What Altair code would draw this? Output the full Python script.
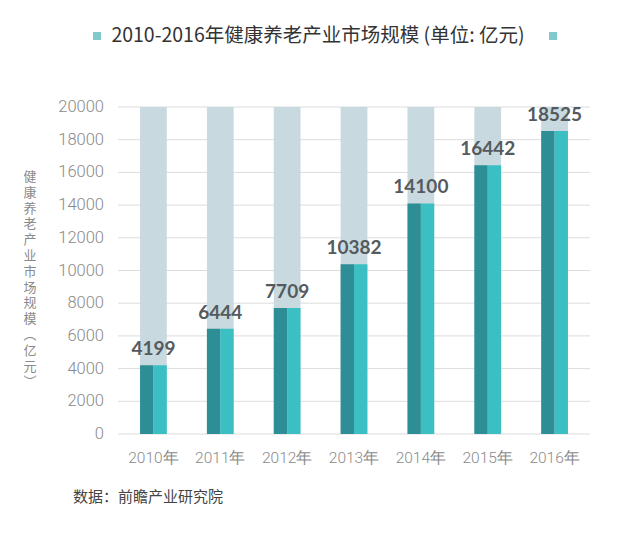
import altair as alt
import pandas as pd

years = ["2010年", "2011年", "2012年", "2013年", "2014年", "2015年", "2016年"]
values = [4199, 6444, 7709, 10382, 14100, 16442, 18525]
bg_values = [20000] * 7
halves = ["左", "右"]
y_ticks = list(range(0, 20001, 2000))
title_text = "2010-2016年健康养老产业市场规模 (单位: 亿元)"
ytitle_chars = list("健康养老产业市场规模") + ["︵", "亿", "元", "︶"]
source_text = "数据：前瞻产业研究院"

df = pd.DataFrame({"year": years, "value": values, "bg": bg_values})
df_half = pd.DataFrame(
    [{"year": y, "value": v, "half": h} for y, v in zip(years, values) for h in halves]
)
df_ticks = pd.DataFrame({"tick": y_ticks})

xscale = alt.Scale(domain=years, paddingInner=0.6, paddingOuter=0.3)
yscale = alt.Scale(domain=[0, 20000])

x_axis = alt.Axis(
    title=None, labelAngle=0, domain=False, ticks=False, grid=False, labelPadding=16,
    labelFontSize=15.5, labelColor="#8a8a8a", labelFont="Roboto", labelFontWeight=300,
)

grid = alt.Chart(df_ticks).mark_rule(color="#dcdcdc", strokeWidth=1).encode(
    y=alt.Y("tick:Q", scale=yscale, axis=None),
    x=alt.value(-2),
    x2=alt.value(470),
)

tick_labels = alt.Chart(df_ticks).mark_text(
    align="right", baseline="middle", fontSize=16.5, color="#8a8a8a", font="Roboto", fontWeight=300
).encode(
    y=alt.Y("tick:Q", scale=yscale, axis=None),
    x=alt.value(-16),
    text=alt.Text("tick:Q", format="d"),
)

bg = alt.Chart(df).mark_bar(color="#c8d9df").encode(
    x=alt.X("year:N", scale=xscale, sort=years, axis=x_axis),
    y=alt.Y("bg:Q", scale=yscale, axis=None),
)

fg = alt.Chart(df_half).mark_bar().encode(
    x=alt.X("year:N", scale=xscale, sort=years, axis=x_axis),
    xOffset=alt.XOffset("half:N", sort=halves, scale=alt.Scale(domain=halves, paddingInner=0, paddingOuter=0)),
    y=alt.Y("value:Q", scale=yscale, axis=None),
    color=alt.Color("half:N", scale=alt.Scale(domain=halves, range=["#2d8e95", "#3cbfc3"]), legend=None),
)

labels = alt.Chart(df).mark_text(
    baseline="bottom", dy=-6, fontSize=19, fontWeight="bold", font="Lato", color="#545a5e"
).encode(
    x=alt.X("year:N", scale=xscale, sort=years, axis=x_axis),
    y=alt.Y("value:Q", scale=yscale, axis=None),
    text=alt.Text("value:Q", format="d"),
)

one = pd.DataFrame({"t": [title_text], "yt": ["\n".join(ytitle_chars)], "s": [source_text]})

title = alt.Chart(one).mark_text(
    fontSize=19.5, color="#333333", font="Noto Sans CJK SC", align="center", baseline="middle"
).encode(x=alt.value(198), y=alt.value(-71), text="t:N")

sq1 = alt.Chart(one).mark_square(size=64, color="#82c9cb", opacity=1).encode(
    x=alt.value(-23), y=alt.value(-71)
)
sq2 = alt.Chart(one).mark_square(size=64, color="#82c9cb", opacity=1).encode(
    x=alt.value(433), y=alt.value(-71)
)

ytitle = alt.Chart(one).mark_text(
    fontSize=13, color="#8a8a8a", font="Noto Sans CJK SC", align="center", baseline="top",
    lineBreak="\n", lineHeight=15.8,
).encode(x=alt.value(-90), y=alt.value(64), text="yt:N")

source = alt.Chart(one).mark_text(
    fontSize=15, color="#444444", font="Noto Sans CJK SC", align="left", baseline="middle"
).encode(x=alt.value(-47), y=alt.value(390), text="s:N")

chart = alt.layer(grid, tick_labels, bg, fg, labels, title, sq1, sq2, ytitle, source).properties(
    width=468, height=327,
    autosize=alt.AutoSizeParams(type="none"),
    padding={"left": 120, "top": 107, "right": 52, "bottom": 106},
    background="white",
).configure_view(stroke=None)

chart.save("out.html", embed_options={"renderer": "svg", "actions": False})
